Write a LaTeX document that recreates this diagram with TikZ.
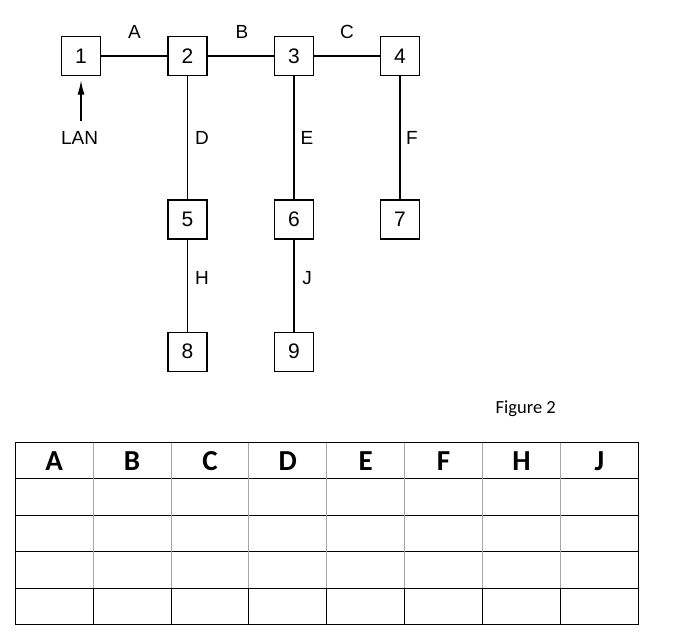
\documentclass[tikz,border=0pt]{standalone}
\usepackage{fontspec}
\setmainfont{Liberation Sans}
\newfontfamily\calibri{Carlito}
\usetikzlibrary{arrows.meta}
\tikzset{
    router/.style={draw, line width=1.1pt, minimum width=39pt, minimum height=39pt, inner sep=0pt, font=\fontsize{21}{22}\selectfont},
    linklabel/.style={inner sep=0pt, font=\fontsize{19}{20}\selectfont},
    link/.style={line width=1.1pt},
    head/.style={inner sep=0pt, font=\calibri\bfseries\fontsize{29}{30}\selectfont}
}
\begin{document}
\begin{tikzpicture}[x=1pt, y=-1pt]
    \useasboundingbox (0,0) rectangle (673,631);
    % Routers
    \node[router] (r1) at (81,56) {1};
    \node[router] (r2) at (187.5,56) {2};
    \node[router] (r3) at (294,56) {3};
    \node[router] (r4) at (400,56) {4};
    \node[router] (r5) at (187.5,219.5) {5};
    \node[router] (r6) at (294,219.5) {6};
    \node[router] (r7) at (400,219.5) {7};
    \node[router] (r8) at (187.5,351.7) {8};
    \node[router] (r9) at (294,351.7) {9};

    % Links
    \draw[link] (r1) -- (r2);
    \draw[link] (r2) -- (r3);
    \draw[link] (r3) -- (r4);
    \draw[link] (r2) -- (r5);
    \draw[link] (r3) -- (r6);
    \draw[link] (r4) -- (r7);
    \draw[link] (r5) -- (r8);
    \draw[link] (r6) -- (r9);

    % Link labels
    \node[linklabel] (la) at (134.5,31.5) {A};
    \node[linklabel] (lb) at (242,31.5) {B};
    \node[linklabel] (lc) at (347,31.5) {C};
    \node[linklabel] (ld) at (202,137.7) {D};
    \node[linklabel] (le) at (307,137.7) {E};
    \node[linklabel] (lf) at (412,137.7) {F};
    \node[linklabel] (lh) at (202,278.3) {H};
    \node[linklabel] (lj) at (307,278.3) {J};

    % LAN entry
    \node[linklabel] (lan) at (79.5,137.7) {LAN};
    \draw[link, -{Latex[length=14pt, width=7pt]}, shorten <=10pt, shorten >=4.5pt] (lan.north -| r1) -- (r1.south);

    % Caption
    \node[inner sep=0pt, font=\calibri\fontsize{18.5}{19}\selectfont] (cap) at (525.7,408.3) {Figure 2};

    % Table
    \foreach \y in {478.3,515.3,551.3,588.3}
        \draw[line width=1.1pt] (15.3,\y) -- (638.3,\y);
    \foreach \i in {1,...,7} {
        \draw[line width=1.1pt, gray!70] (15.3+\i*77.875,442.3) -- (15.3+\i*77.875,588.3);
        \draw[line width=1.1pt] (15.3+\i*77.875,588.3) -- (15.3+\i*77.875,624.3);
    }
    \draw[line width=1.1pt] (15.3,442.3) rectangle (638.3,624.3);
    \foreach \t [count=\i from 0] in {A,B,C,D,E,F,H,J}
        \node[head] (h\t) at (15.3+\i*77.875+38.94,461.5) {\t};
\end{tikzpicture}
\end{document}
